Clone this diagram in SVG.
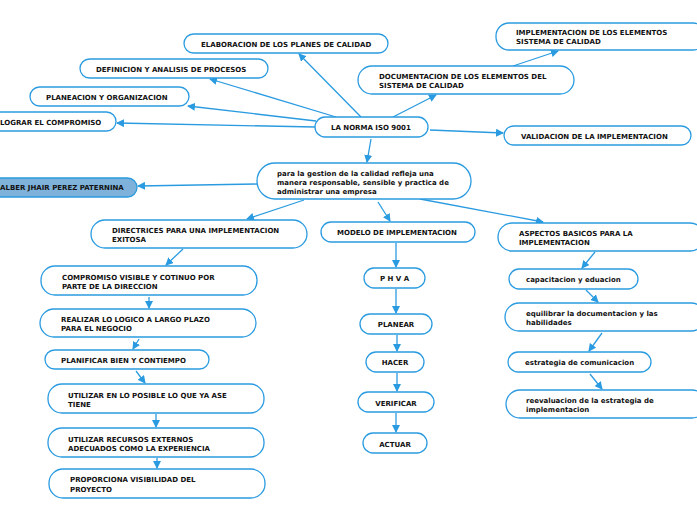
<svg xmlns="http://www.w3.org/2000/svg" width="697" height="520" viewBox="0 0 697 520">
<style>
.n rect{fill:#fff;stroke:#2a9be0;stroke-width:1.3}
text{font-family:"DejaVu Sans",Verdana,sans-serif;font-size:7px;font-weight:bold;fill:#111}
.c line{stroke:#2a9be0;stroke-width:1.3;marker-end:url(#a)}
</style>
<defs><marker id="a" markerWidth="8" markerHeight="8" refX="7" refY="4" orient="auto" markerUnits="userSpaceOnUse"><path d="M0,0 L8,4 L0,8 Z" fill="#2a9be0"/></marker></defs>
<rect width="697" height="520" fill="#fff"/>
<g class="c">
<line x1="361" y1="117" x2="299" y2="54"/>
<line x1="336" y1="117" x2="210" y2="79"/>
<line x1="316" y1="121" x2="188" y2="106"/>
<line x1="315" y1="127" x2="117" y2="123"/>
<line x1="393" y1="117" x2="436" y2="95"/>
<line x1="513" y1="66" x2="558" y2="51"/>
<line x1="430" y1="130" x2="503" y2="133"/>
<line x1="371" y1="139" x2="367" y2="162"/>
<line x1="257" y1="184" x2="138" y2="186"/>
<line x1="304" y1="200" x2="247" y2="219"/>
<line x1="378" y1="202" x2="390" y2="221"/>
<line x1="420" y1="199" x2="543" y2="222"/>
<line x1="183" y1="249" x2="166" y2="265"/>
<line x1="149" y1="297" x2="149" y2="308"/>
<line x1="139" y1="339" x2="133" y2="349"/>
<line x1="136" y1="371" x2="145" y2="383"/>
<line x1="156" y1="414" x2="156" y2="427"/>
<line x1="157" y1="458" x2="157" y2="468"/>
<line x1="396" y1="243" x2="396" y2="267"/>
<line x1="396" y1="289" x2="396" y2="313"/>
<line x1="397" y1="335" x2="397" y2="351"/>
<line x1="397" y1="373" x2="397" y2="391"/>
<line x1="396" y1="413" x2="396" y2="432"/>
<line x1="595" y1="252" x2="582" y2="268"/>
<line x1="586" y1="290" x2="598" y2="302"/>
<line x1="602" y1="333" x2="589" y2="351"/>
<line x1="590" y1="374" x2="602" y2="389"/>
</g>
<g id="elab" class="n"><rect x="184" y="34" width="204" height="19" rx="9.5"/><text x="201" y="47">ELABORACION DE LOS PLANES DE CALIDAD</text></g>
<g id="defi" class="n"><rect x="80" y="59" width="188" height="19" rx="9.5"/><text x="96" y="72">DEFINICION Y ANALISIS DE PROCESOS</text></g>
<g id="plan" class="n"><rect x="30" y="87" width="159" height="19" rx="9.5"/><text x="46" y="100">PLANEACION Y ORGANIZACION</text></g>
<g id="logr" class="n"><rect x="-12" y="112" width="128" height="19" rx="9.5"/><text x="0" y="125">LOGRAR EL COMPROMISO</text></g>
<g id="norma" class="n"><rect x="315" y="117" width="113" height="20" rx="10"/><text x="331" y="130">LA NORMA ISO 9001</text></g>
<g id="impl" class="n"><rect x="496" y="23" width="210" height="27" rx="13"/><text x="516" y="35">IMPLEMENTACION DE LOS ELEMENTOS</text><text x="516" y="44">SISTEMA DE CALIDAD</text></g>
<g id="docu" class="n"><rect x="358" y="66" width="216" height="28" rx="14"/><text x="379" y="79">DOCUMENTACION DE LOS ELEMENTOS DEL</text><text x="379" y="88">SISTEMA DE CALIDAD</text></g>
<g id="vali" class="n"><rect x="504" y="126" width="187" height="19" rx="9.5"/><text x="521" y="139">VALIDACION DE LA IMPLEMENTACION</text></g>
<g id="para" class="n"><rect x="257" y="163" width="214" height="36" rx="18"/><text x="277" y="176">para la gestion de la calidad refleja una</text><text x="277" y="185">manera responsable, sensible y practica de</text><text x="277" y="194">administrar una empresa</text></g>
<g id="alber" class="n"><rect x="-12" y="178" width="149" height="19" rx="9.5" style="fill:#7fb2da"/><text x="0" y="190">ALBER JHAIR PEREZ PATERNINA</text></g>
<g id="dire" class="n"><rect x="91" y="220" width="216" height="28" rx="14"/><text x="112" y="233">DIRECTRICES PARA UNA IMPLEMENTACION</text><text x="112" y="242">EXITOSA</text></g>
<g id="mode" class="n"><rect x="321" y="222" width="154" height="20" rx="10"/><text x="337" y="235">MODELO DE IMPLEMENTACION</text></g>
<g id="aspe" class="n"><rect x="498" y="223" width="206" height="28" rx="14"/><text x="519" y="236">ASPECTOS BASICOS PARA LA</text><text x="519" y="245">IMPLEMENTACION</text></g>
<g id="comp" class="n"><rect x="41" y="266" width="216" height="29" rx="14"/><text x="62" y="280">COMPROMISO VISIBLE Y COTINUO POR</text><text x="62" y="289">PARTE DE LA DIRECCION</text></g>
<g id="real" class="n"><rect x="40" y="309" width="216" height="28" rx="14"/><text x="61" y="322">REALIZAR LO LOGICO A LARGO PLAZO</text><text x="61" y="331">PARA EL NEGOCIO</text></g>
<g id="plani" class="n"><rect x="45" y="350" width="164" height="19" rx="9.5"/><text x="61" y="363">PLANIFICAR BIEN Y CONTIEMPO</text></g>
<g id="util1" class="n"><rect x="48" y="384" width="216" height="29" rx="14"/><text x="68" y="398">UTILIZAR EN LO POSIBLE LO QUE YA ASE</text><text x="68" y="407">TIENE</text></g>
<g id="util2" class="n"><rect x="48" y="428" width="216" height="29" rx="14"/><text x="68" y="442">UTILIZAR RECURSOS EXTERNOS</text><text x="68" y="451">ADECUADOS COMO LA EXPERIENCIA</text></g>
<g id="prop" class="n"><rect x="49" y="469" width="216" height="29" rx="14"/><text x="70" y="482">PROPORCIONA VISIBILIDAD DEL</text><text x="70" y="492">PROYECTO</text></g>
<g id="phva" class="n"><rect x="364" y="268" width="61" height="20" rx="10"/><text x="394.5" y="281" text-anchor="middle">P H V A</text></g>
<g id="planear" class="n"><rect x="360" y="314" width="72" height="20" rx="10"/><text x="396" y="327" text-anchor="middle">PLANEAR</text></g>
<g id="hacer" class="n"><rect x="366" y="352" width="58" height="20" rx="10"/><text x="395" y="365" text-anchor="middle">HACER</text></g>
<g id="veri" class="n"><rect x="358" y="392" width="76" height="20" rx="10"/><text x="396" y="406" text-anchor="middle">VERIFICAR</text></g>
<g id="actu" class="n"><rect x="363" y="433" width="64" height="20" rx="10"/><text x="395" y="447" text-anchor="middle">ACTUAR</text></g>
<g id="capa" class="n"><rect x="509" y="269" width="129" height="20" rx="10"/><text x="526" y="282">capacitacion y eduacion</text></g>
<g id="equi" class="n"><rect x="505" y="303" width="200" height="28" rx="14"/><text x="526" y="316">equilibrar la documentacion y las</text><text x="526" y="325">habilidades</text></g>
<g id="estr" class="n"><rect x="508" y="352" width="143" height="20" rx="10"/><text x="525" y="365">estrategia de comunicacion</text></g>
<g id="reev" class="n"><rect x="506" y="390" width="200" height="28" rx="14"/><text x="526" y="403">reevaluacion de la estrategia de</text><text x="526" y="412">implementacion</text></g>
</svg>
